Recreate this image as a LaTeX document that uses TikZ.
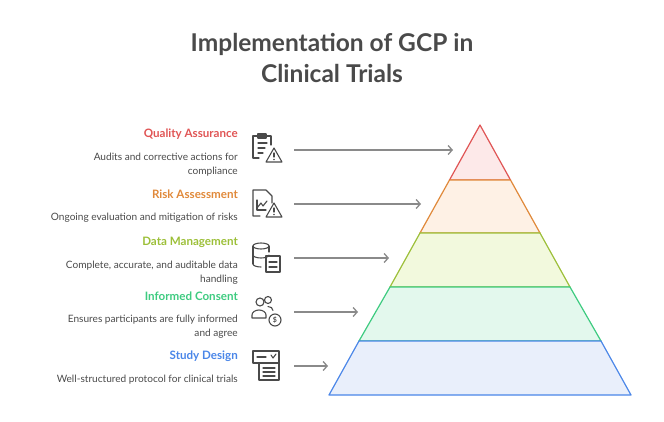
\documentclass[tikz,border=0pt]{standalone}
\usepackage{fontspec}
\setmainfont{Lato}
\usetikzlibrary{arrows.meta}
\definecolor{tgray}{HTML}{4A4A4A}
\definecolor{agray}{HTML}{8A8A8A}
\definecolor{cR}{HTML}{E05555}\definecolor{fR}{HTML}{FDE9E9}
\definecolor{cO}{HTML}{E0893A}\definecolor{fO}{HTML}{FEF1E5}
\definecolor{cY}{HTML}{9CBF38}\definecolor{fY}{HTML}{F2F9DD}
\definecolor{cG}{HTML}{3ECB80}\definecolor{fG}{HTML}{E3F8ED}
\definecolor{cB}{HTML}{4A86E8}\definecolor{fB}{HTML}{E9EFFB}
\tikzset{
 head/.style={anchor=east,inner sep=0pt,font=\bfseries\fontsize{11.6}{13}\selectfont},
 desc/.style={anchor=north east,inner sep=0pt,align=right,text=tgray,font=\fontsize{10.1}{14}\selectfont},
 arr/.style={draw=agray,line width=1.3pt,-{Straight Barb[length=4pt,width=9pt]}},
 ic/.style={draw=tgray,line width=1.1pt,line join=round,line cap=round},
 layer/.style={line width=1.2pt,line join=round}
}
\begin{document}
\begin{tikzpicture}[x=1pt,y=-1pt]
\useasboundingbox (0,0) rectangle (664,422);
\node[text=tgray,font=\bfseries\fontsize{24.5}{31}\selectfont,align=center] (title) at (332,58) {Implementation of GCP in\\Clinical Trials};
% pyramid
\path[layer,draw=cR,fill=fR] (480,125) -- (510.5,180) -- (449.5,180) -- cycle;
\path[layer,draw=cO,fill=fO] (449.5,180) -- (510.5,180) -- (540,233) -- (420,233) -- cycle;
\path[layer,draw=cY,fill=fY] (420,233) -- (540,233) -- (570,287) -- (390,287) -- cycle;
\path[layer,draw=cG,fill=fG] (390,287) -- (570,287) -- (601,341) -- (359,341) -- cycle;
\path[layer,draw=cB,fill=fB] (359,341) -- (601,341) -- (631,395) -- (329,395) -- cycle;
\coordinate (p1) at (453,150);
\coordinate (p2) at (421,204);
\coordinate (p3) at (389,258);
\coordinate (p4) at (358,312);
\coordinate (p5) at (328,366);
\coordinate (s1) at (294,150);
\coordinate (s2) at (294,204);
\coordinate (s3) at (294,258);
\coordinate (s4) at (294,312);
\coordinate (s5) at (294,366);
\foreach \i in {1,...,5} \draw[arr] (s\i) -- (p\i);
% texts
\node[head,text=cR] (h1) at (238,134) {Quality Assurance};
\node[desc] (d1) at (238,153) {Audits and corrective actions for\\compliance};
\node[head,text=cO] (h2) at (238,194) {Risk Assessment};
\node[desc] (d2) at (238,213) {Ongoing evaluation and mitigation of risks};
\node[head,text=cY] (h3) at (238,242) {Data Management};
\node[desc] (d3) at (238,261) {Complete, accurate, and auditable data\\handling};
\node[head,text=cG] (h4) at (238,296) {Informed Consent};
\node[desc] (d4) at (238,315) {Ensures participants are fully informed\\and agree};
\node[head,text=cB] (h5) at (238,356) {Study Design};
\node[desc] (d5) at (238,375) {Well-structured protocol for clinical trials};
% icons
\draw[ic] (259,158) -- (253,158) -- (253,136) -- (271,136) -- (271,145);
\draw[ic] (258,134) rectangle (266,138);
\draw[ic] (258,143) -- (267,143) (258,148) -- (265,148) (258,153) -- (263,153);
\draw[ic] (274,148) -- (282,162) -- (266,162) -- cycle;
\draw[ic] (274,153) -- (274,157);\fill[tgray] (274,159.5) circle (0.9);
\draw[ic] (260,216) -- (253,216) -- (253,190) -- (266,190) -- (272,196) -- (272,203);
\draw[ic] (257,200) -- (257,210) -- (266,210);
\draw[ic] (257,208) -- (261,203) -- (263,206) -- (267,201);
\draw[ic] (274,203) -- (282,217) -- (266,217) -- cycle;
\draw[ic] (274,208) -- (274,212);\fill[tgray] (274,214.5) circle (0.9);
\draw[ic] (261,246) ellipse (8 and 3);
\draw[ic] (253,246) -- (253,264) (269,246) -- (269,252);
\draw[ic] (253,255) arc (180:360:8 and -3);
\draw[ic] (253,264) arc (180:270:8 and -3);
\draw[ic] (266,256) rectangle (280,272);
\draw[ic] (269,262) -- (277,262) (269,267) -- (277,267);
% people + coin
\draw[ic] (260,302) circle (4);
\draw[ic] (252,318) -- (252,315) arc (180:360:7 and 5) -- (266,318) -- cycle;
\draw[ic] (268,300) circle (3.5);
\draw[ic] (268,306.5) arc (270:360:5 and 4);
\draw[ic] (275,320) circle (6);
\node[font=\bfseries\fontsize{7}{7}\selectfont,text=tgray] (dol) at (275,320.5) {\$};
\draw[ic] (253,351) rectangle (279,363);
\draw[ic] (259,363) -- (259,380) -- (279,380) -- (279,363);
\draw[ic] (271,355) -- (273,358) -- (276,354);
\draw[ic] (257,357) -- (266,357);
\draw[ic] (263,368) -- (275,368) (263,372) -- (275,372) (263,376) -- (275,376);
\end{tikzpicture}
\end{document}
